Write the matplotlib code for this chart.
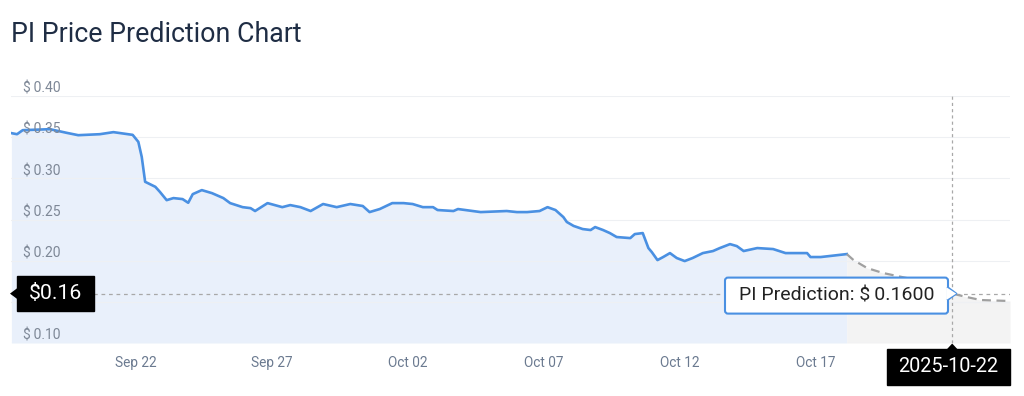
import matplotlib
matplotlib.use("Agg")
import matplotlib.pyplot as plt
import matplotlib.dates as mdates
from matplotlib.patches import FancyBboxPatch, Polygon
from matplotlib.transforms import IdentityTransform, blended_transform_factory
import pandas as pd

plt.rcParams['font.family'] = ['Roboto', 'DejaVu Sans']

# ---------------- data ----------------
hist_dates = [
    "2025-09-17 10:00", "2025-09-17 15:00", "2025-09-17 20:00", "2025-09-18 20:00",
    "2025-09-19 11:00", "2025-09-19 21:00", "2025-09-20 16:00", "2025-09-21 04:00",
    "2025-09-21 21:00", "2025-09-22 02:00", "2025-09-22 05:00", "2025-09-22 08:00",
    "2025-09-22 17:00", "2025-09-22 21:00", "2025-09-23 03:00", "2025-09-23 09:00",
    "2025-09-23 17:00", "2025-09-23 22:00", "2025-09-24 02:00", "2025-09-24 10:00",
    "2025-09-24 19:00", "2025-09-25 05:00", "2025-09-25 11:00", "2025-09-25 22:00",
    "2025-09-26 05:00", "2025-09-26 09:00", "2025-09-26 20:00", "2025-09-27 09:00",
    "2025-09-27 16:00", "2025-09-28 01:00", "2025-09-28 10:00", "2025-09-28 21:00",
    "2025-09-29 09:00", "2025-09-29 21:00", "2025-09-30 08:00", "2025-09-30 14:00",
    "2025-09-30 23:00", "2025-10-01 10:00", "2025-10-01 20:00", "2025-10-02 04:00",
    "2025-10-02 13:00", "2025-10-02 22:00", "2025-10-03 02:00", "2025-10-03 16:00",
    "2025-10-03 20:00", "2025-10-04 16:00", "2025-10-05 15:00", "2025-10-06 00:00",
    "2025-10-06 09:00", "2025-10-06 20:00", "2025-10-07 03:00", "2025-10-07 10:00",
    "2025-10-07 17:00", "2025-10-07 20:00", "2025-10-08 02:00", "2025-10-08 10:00",
    "2025-10-08 17:00", "2025-10-08 21:00", "2025-10-09 04:00", "2025-10-09 10:00",
    "2025-10-09 16:00", "2025-10-10 04:00", "2025-10-10 08:00", "2025-10-10 15:00",
    "2025-10-10 20:00", "2025-10-10 23:00", "2025-10-11 04:00", "2025-10-11 09:00",
    "2025-10-11 15:00", "2025-10-11 21:00", "2025-10-12 04:00", "2025-10-12 11:00",
    "2025-10-12 20:00", "2025-10-13 05:00", "2025-10-13 11:00", "2025-10-13 20:00",
    "2025-10-14 02:00", "2025-10-14 08:00", "2025-10-14 20:00", "2025-10-15 10:00",
    "2025-10-15 21:00", "2025-10-16 16:00", "2025-10-16 19:00", "2025-10-17 04:00",
    "2025-10-18 03:00",
]
hist_prices = [
    0.3549, 0.3536, 0.3585, 0.3597, 0.3552, 0.3524, 0.3536, 0.3561,
    0.3528, 0.3443, 0.3261, 0.2958, 0.2897, 0.2836, 0.2735, 0.2760,
    0.2748, 0.2703, 0.2808, 0.2857, 0.2820, 0.2760, 0.2699, 0.2650,
    0.2638, 0.2603, 0.2699, 0.2650, 0.2675, 0.2650, 0.2603, 0.2688,
    0.2650, 0.2688, 0.2664, 0.2590, 0.2627, 0.2699, 0.2699, 0.2688,
    0.2650, 0.2650, 0.2615, 0.2603, 0.2627, 0.2590, 0.2603, 0.2590,
    0.2590, 0.2603, 0.2650, 0.2615, 0.2529, 0.2470, 0.2422, 0.2384,
    0.2372, 0.2408, 0.2372, 0.2335, 0.2287, 0.2274, 0.2323, 0.2335,
    0.2153, 0.2104, 0.2007, 0.2044, 0.2092, 0.2032, 0.1995, 0.2032,
    0.2092, 0.2117, 0.2153, 0.2201, 0.2177, 0.2117, 0.2153, 0.2141,
    0.2092, 0.2092, 0.2044, 0.2044, 0.2080,
]
pred_dates = [
    "2025-10-18 03:00", "2025-10-18 09:00", "2025-10-18 21:00", "2025-10-19 11:00",
    "2025-10-20 08:00", "2025-10-21 07:00", "2025-10-22 00:00", "2025-10-22 13:00",
    "2025-10-23 01:00", "2025-10-24 03:00",
]
pred_prices = [0.2080, 0.2007, 0.1910, 0.1850, 0.1789, 0.1704, 0.1600, 0.1558, 0.1522, 0.1510]

target_date = "2025-10-22"
target_price = 0.16
current_label = "$0.16"
y_ticks = [0.10, 0.15, 0.20, 0.25, 0.30, 0.35, 0.40]
y_labels = ["$\u20090.10", "", "$\u20090.20", "$\u20090.25", "$\u20090.30", "$\u20090.35", "$\u20090.40"]
x_ticks = ["2025-09-22", "2025-09-27", "2025-10-02", "2025-10-07", "2025-10-12", "2025-10-17"]
x_tick_labels = ["Sep 22", "Sep 27", "Oct 02", "Oct 07", "Oct 12", "Oct 17"]
title = "PI Price Prediction Chart"

# ---------------- figure ----------------
W, H = 1024, 396
fig = plt.figure(figsize=(W / 100, H / 100), dpi=100)
fig.patch.set_facecolor("white")
L, R, T, B = 11, 1010, 96, 343
ax = fig.add_axes([L / W, (H - B) / H, (R - L) / W, (B - T) / H])
ax.set_facecolor("white")

hd = pd.to_datetime(hist_dates)
pdt = pd.to_datetime(pred_dates)
ymin, ymax = 0.10, 0.40

ax.fill_between(hd, hist_prices, ymin, color="#e9f0fb", lw=0, zorder=1)
ax.fill_between(pdt, pred_prices, ymin, color="#f3f3f3", lw=0, zorder=1)

for v in y_ticks:
    ax.axhline(v, color="#eef0f3", lw=0.8, zorder=1.5)

ax.plot(hd, hist_prices, color="#4a90e2", lw=1.9, zorder=3, solid_joinstyle="round")
ax.plot(pdt, pred_prices, color="#a0a0a0", lw=1.6, ls=(0, (4, 2.5)), zorder=3)

td = pd.Timestamp(target_date)
ax.axhline(target_price, color="#a8a8a8", lw=0.9, ls=(0, (3, 3)), zorder=2.5)
ax.axvline(td, color="#a8a8a8", lw=0.9, ls=(0, (2.5, 2.5)), zorder=2.5)

ax.set_xlim(pd.Timestamp("2025-09-17 09:40"), pd.Timestamp("2025-10-24 03:00"))
ax.set_ylim(ymin, ymax)

for s in ax.spines.values():
    s.set_visible(False)
ax.set_yticks([])
ax.set_xticks(pd.to_datetime(x_ticks))
ax.set_xticklabels(x_tick_labels)
ax.tick_params(axis="x", length=0, pad=9.5, labelsize=9.8, labelcolor="#6b7a90")

blend = blended_transform_factory(ax.transAxes, ax.transData)
for v, lab in zip(y_ticks, y_labels):
    if lab:
        ax.annotate(lab, xy=(12 / (R - L), v), xycoords=blend, xytext=(0, 5.2),
                    textcoords="offset points", va="center", ha="left",
                    fontsize=10, color="#7d8796", annotation_clip=False, zorder=4)

fig.text(11 / W, 1 - 34 / H, title, fontsize=19.3, color="#1f2d44", va="center", ha="left")

# ----- annotation boxes (pixel coordinates) -----
ident = IdentityTransform()
def px(x, y):
    return (x, H - y)

fig.canvas.draw()
tx, ty = ax.transData.transform((mdates.date2num(td), target_price))
ty_img = H - ty
tx_img = tx

# left price box
bx0, bx1 = 17, 94
by0, by1 = ty_img - 17.5, ty_img + 17.5
fig.patches.append(FancyBboxPatch(px(bx0, by1), bx1 - bx0, by1 - by0, boxstyle="square,pad=0",
                                  fc="black", ec="black", transform=ident, figure=fig, zorder=5))
fig.patches.append(Polygon([px(10, ty_img), px(bx0 + 1, ty_img - 6), px(bx0 + 1, ty_img + 6)],
                           closed=True, fc="black", ec="none", transform=ident, figure=fig, zorder=5))
fig.text((bx0 + bx1) / 2 / W, 1 - ty_img / H, current_label, color="white", fontsize=15.3,
         ha="center", va="center", zorder=6)

# prediction tooltip
kx0, kx1 = 725, 948
ky0, ky1 = ty_img - 16, ty_img + 20
fig.patches.append(FancyBboxPatch(px(kx0, ky1), kx1 - kx0, ky1 - ky0,
                                  boxstyle="round,pad=0,rounding_size=3",
                                  fc="white", ec="#4a90e2", lw=1.5, transform=ident, figure=fig, zorder=5))
fig.patches.append(Polygon([px(tx_img + 4, ty_img), px(kx1 - 1, ty_img - 6), px(kx1 - 1, ty_img + 6)],
                           closed=True, fc="white", ec="none", transform=ident, figure=fig, zorder=6))
fig.lines.append(plt.Line2D([kx1, tx_img + 4, kx1], [H - (ty_img - 6), H - ty_img, H - (ty_img + 6)],
                            color="#4a90e2", lw=1.5, transform=ident, figure=fig, zorder=6))
fig.text((kx0 + kx1) / 2 / W, 1 - (ky0 + ky1) / 2 / H,
         "PI Prediction: $\u2009{:.4f}".format(target_price),
         color="#222222", fontsize=14, ha="center", va="center", zorder=7)

# date box
dx0, dx1 = 887, 1010
dy0, dy1 = 349, 385
fig.patches.append(FancyBboxPatch(px(dx0, dy1), dx1 - dx0, dy1 - dy0, boxstyle="square,pad=0",
                                  fc="black", ec="black", transform=ident, figure=fig, zorder=5))
fig.patches.append(Polygon([px(tx_img, B + 0.5), px(tx_img - 6, dy0 + 1), px(tx_img + 6, dy0 + 1)],
                           closed=True, fc="black", ec="none", transform=ident, figure=fig, zorder=5))
fig.text((dx0 + dx1) / 2 / W, 1 - (dy0 + dy1) / 2 / H, target_date, color="white", fontsize=14.3,
         ha="center", va="center", zorder=6)

fig.savefig("out.png", dpi=100, facecolor="white")
